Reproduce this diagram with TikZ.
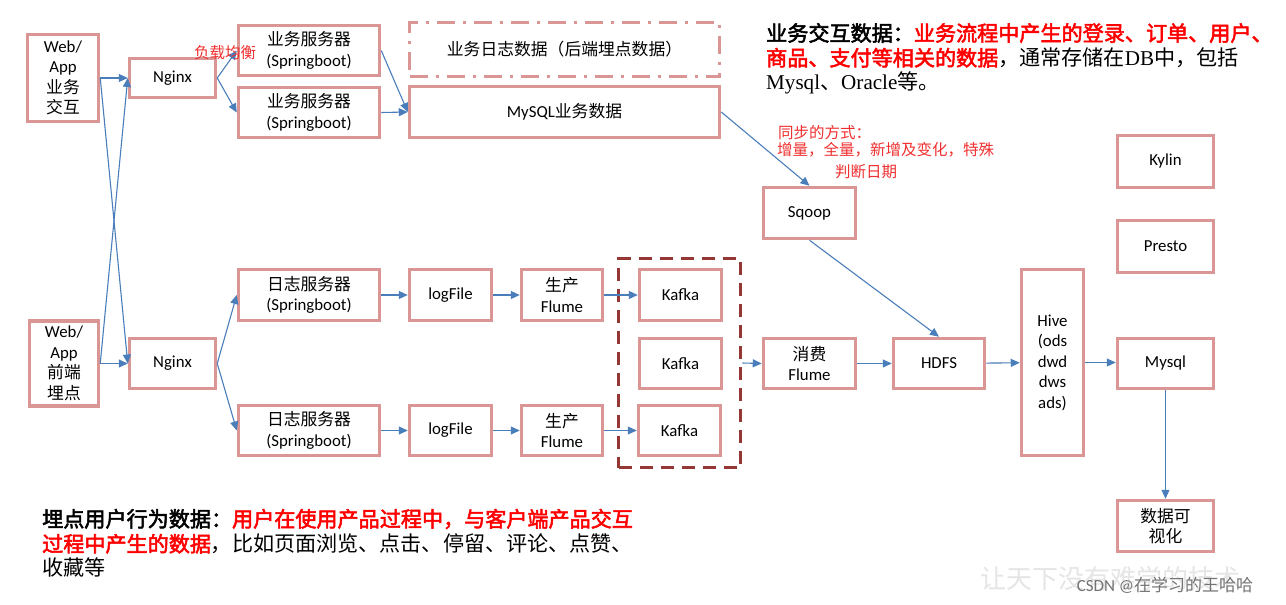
\documentclass[tikz,border=0pt]{standalone}
\usepackage{fontspec}
\setmainfont{Carlito}
\newfontfamily\cjk[AutoFakeBold=2.5]{Noto Sans CJK SC}
\newfontfamily\latser{Liberation Serif}
\usetikzlibrary{arrows.meta}
\definecolor{boxc}{HTML}{D99694}
\definecolor{darkc}{HTML}{953735}
\definecolor{arrc}{HTML}{4A7EBB}
\definecolor{annc}{HTML}{F03030}
\newcommand\zh[1]{{\cjk #1}}
\tikzset{
  box/.style={draw=boxc, line width=3.5pt, fill=white, align=center, inner sep=1pt,
    font=\fontsize{16.8}{20.5}\selectfont},
  arr/.style={draw=arrc, line width=1.1pt, -{Triangle[length=9pt,width=8pt]}},
  para/.style={anchor=west, inner sep=0pt, font=\cjk\fontsize{21.1}{24}\selectfont},
  ann/.style={inner sep=0pt, text=annc, font=\cjk\fontsize{15.5}{18}\selectfont},
}
\begin{document}
\begin{tikzpicture}[x=1pt,y=-1pt]
\useasboundingbox[fill=white] (0,0) rectangle (1286,605);

% watermark
\node[inner sep=0pt, text=black!10, font=\cjk\fontsize{26}{28}\selectfont] (wm1) at (1110,579) {让天下没有难学的技术};
\node[inner sep=0pt, text=black!55, font=\fontsize{17}{19}\selectfont] (wm2) at (1165,585) {CSDN @\zh{在学习的王哈哈}};

% top row
\node[box, minimum width=71, minimum height=87] (webA) at (63,78) {Web/\\App\\\zh{业务}\\\zh{交互}};
\node[box, minimum width=86, minimum height=39] (nginxA) at (172.5,78) {Nginx};
\node[box, minimum width=141, minimum height=50] (srvA) at (309,50.5) {\zh{业务服务器}\\(Springboot)};
\node[box, minimum width=141, minimum height=50] (srvB) at (309,112.5) {\zh{业务服务器}\\(Springboot)};
\node[box, minimum width=310, minimum height=54, dash pattern=on 18pt off 8pt on 3pt off 8pt] (logbiz) at (564.5,49.5) {\zh{业务日志数据（后端埋点数据）}};
\node[box, minimum width=310, minimum height=51] (mysql) at (564.5,112) {MySQL\zh{业务数据}};
\node[box, minimum width=92, minimum height=51] (sqoop) at (809.5,213) {Sqoop};
\node[box, minimum width=96, minimum height=52] (kylin) at (1165.5,161.5) {Kylin};
\node[box, minimum width=96, minimum height=52] (presto) at (1165.5,246.5) {Presto};

% bottom part
\node[box, minimum width=69, minimum height=85] (webB) at (64,363.5) {Web/\\App\\\zh{前端}\\\zh{埋点}};
\node[box, minimum width=86, minimum height=50] (nginxB) at (172.5,363.5) {Nginx};
\node[box, minimum width=141, minimum height=51] (logsA) at (309,295) {\zh{日志服务器}\\(Springboot)};
\node[box, minimum width=141, minimum height=50] (logsB) at (309,430.5) {\zh{日志服务器}\\(Springboot)};
\node[box, minimum width=82, minimum height=51] (fileA) at (450.5,295) {logFile};
\node[box, minimum width=82, minimum height=50] (fileB) at (450.5,430.5) {logFile};
\node[box, minimum width=81, minimum height=51] (flumeA) at (562,295) {\zh{生产}\\Flume};
\node[box, minimum width=81, minimum height=50] (flumeB) at (562,430.5) {\zh{生产}\\Flume};
\node[draw=darkc, line width=3.8pt, dash pattern=on 13pt off 8pt, minimum width=122, minimum height=209, inner sep=0pt] (group) at (679.5,363) {};
\node[box, minimum width=82, minimum height=51] (kafkaA) at (680.5,295) {Kafka};
\node[box, minimum width=82, minimum height=50] (kafkaB) at (680.5,363.5) {Kafka};
\node[box, minimum width=82, minimum height=50] (kafkaC) at (679.5,430.5) {Kafka};
\node[box, minimum width=92, minimum height=50] (consume) at (809.5,363.5) {\zh{消费}\\Flume};
\node[box, minimum width=91, minimum height=50] (hdfs) at (939,363.5) {HDFS};
\node[box, minimum width=62, minimum height=186] (hive) at (1052.5,362.5) {Hive\\(ods\\dwd\\dws\\ads)};
\node[box, minimum width=96, minimum height=50] (mysqlR) at (1165.5,363.5) {Mysql};
\node[box, minimum width=96, minimum height=51] (vis) at (1165.5,526) {\zh{数据可}\\\zh{视化}};

% connectors
\draw[arr] (webA.east) -- (nginxA.west);
\draw[arr] (webA.east) -- (nginxB.west);
\draw[arr] (webB.east) -- (nginxB.west);
\draw[arr] (webB.east) -- (nginxA.west);
\draw[arr] (nginxA.east) -- (srvA.west);
\draw[arr] (nginxA.east) -- (srvB.west);
\draw[arr] (srvA.east) -- (mysql.west);
\draw[arr] (srvB.east) -- (mysql.west);
\draw[arr] (mysql.east) -- (sqoop.north);
\draw[arr] (sqoop.south) -- (hdfs.north);
\draw[arr] (nginxB.east) -- (logsA.west);
\draw[arr] (nginxB.east) -- (logsB.west);
\draw[arr] (logsA) -- (fileA);
\draw[arr] (logsB) -- (fileB);
\draw[arr] (fileA) -- (flumeA);
\draw[arr] (fileB) -- (flumeB);
\draw[arr] (flumeA) -- (kafkaA);
\draw[arr] (flumeB) -- (kafkaC);
\draw[arr] (group.east) -- (consume.west);
\draw[arr] (consume) -- (hdfs);
\draw[arr] (hdfs) -- (hive);
\draw[arr] (hive.east) -- (hive.east -| mysqlR.west);
\draw[arr] (mysqlR) -- (vis);

% annotations
\node[ann] (lb) at (225,53) {负载均衡};
\node[ann, anchor=west] (syn1) at (778,133) {同步的方式：};
\node[ann, anchor=west] (syn2) at (777,150) {增量，全量，新增及变化，特殊};
\node[ann] (syn3) at (866,172) {判断日期};

% paragraphs
\node[para] (p1) at (766,33) {{\bfseries 业务交互数据：}{\color{red}\bfseries 业务流程中产生的登录、订单、用户、}};
\node[para] (p2) at (766,58) {{\color{red}\bfseries 商品、支付等相关的数据}，通常存储在{\latser DB}中，包括};
\node[para] (p3) at (766,83) {{\latser Mysql}、{\latser Oracle}等。};

\node[para] (q1) at (42,519) {{\bfseries 埋点用户行为数据：}{\color{red}\bfseries 用户在使用产品过程中，与客户端产品交互}};
\node[para] (q2) at (42,544) {{\color{red}\bfseries 过程中产生的数据}，比如页面浏览、点击、停留、评论、点赞、};
\node[para] (q3) at (42,567) {收藏等};
\end{tikzpicture}
\end{document}
